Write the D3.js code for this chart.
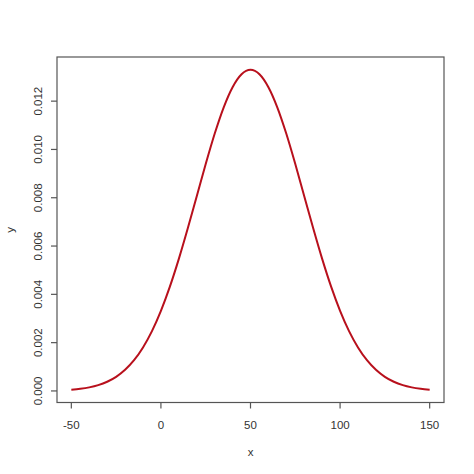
<!DOCTYPE html>
<html>
<head>
<meta charset="utf-8">
<script src="https://cdn.jsdelivr.net/npm/d3@7"></script>
<style>
  body { margin: 0; background: #fff; }
  svg { display: block; }
</style>
</head>
<body>
<svg></svg>
<script>
// x values and density values
const xs = [-50, -45, -40, -35, -30, -25, -20, -15, -10, -5, 0, 5, 10, 15, 20, 25, 30, 35, 40, 45,
  50, 55, 60, 65, 70, 75, 80, 85, 90, 95, 100, 105, 110, 115, 120, 125, 130, 135, 140, 145, 150];
const ys = [0.0000514, 0.0000884, 0.000148, 0.000240, 0.000380, 0.000584, 0.000874, 0.001272,
  0.001800, 0.002477, 0.003316, 0.004317, 0.005467, 0.006733, 0.008066, 0.009397, 0.010648,
  0.011736, 0.012579, 0.013115, 0.013298, 0.013115, 0.012579, 0.011736, 0.010648, 0.009397,
  0.008066, 0.006733, 0.005467, 0.004317, 0.003316, 0.002477, 0.001800, 0.001272, 0.000874,
  0.000584, 0.000380, 0.000240, 0.000148, 0.0000884, 0.0000514];
const xTicks = [-50, 0, 50, 100, 150];
const yTicks = [0, 0.002, 0.004, 0.006, 0.008, 0.010, 0.012];

const data = xs.map((x, i) => ({ x: x, y: ys[i] }));

const width = 474;
const height = 474;
const margin = { top: 57, right: 30, bottom: 71.5, left: 57 };

// R-style 4% padding around the data range
function pad(ext) {
  const p = (ext[1] - ext[0]) * 0.04;
  return [ext[0] - p, ext[1] + p];
}

const xScale = d3.scaleLinear()
  .domain(pad(d3.extent(xs)))
  .range([margin.left, width - margin.right]);

const yScale = d3.scaleLinear()
  .domain(pad(d3.extent(ys)))
  .range([height - margin.bottom, margin.top]);

const svg = d3.select('svg')
  .attr('width', width)
  .attr('height', height)
  .style('font-family', 'Arial, "Liberation Sans", sans-serif');

const axisColor = '#555';
const textColor = '#333';
const fontSize = '11.5px';
const tickLen = 6;
const x0 = margin.left;
const x1 = width - margin.right;
const y0 = height - margin.bottom;
const y1 = margin.top;

// curve
const line = d3.line()
  .x((d) => xScale(d.x))
  .y((d) => yScale(d.y))
  .curve(d3.curveMonotoneX);

svg.append('path')
  .datum(data)
  .attr('fill', 'none')
  .attr('stroke', '#b8101c')
  .attr('stroke-width', 2)
  .attr('stroke-linejoin', 'round')
  .attr('d', line);

// box
svg.append('rect')
  .attr('x', x0)
  .attr('y', y1)
  .attr('width', x1 - x0)
  .attr('height', y0 - y1)
  .attr('fill', 'none')
  .attr('stroke', axisColor)
  .attr('stroke-width', 1.2);

// x axis ticks
svg.selectAll('.xtick')
  .data(xTicks)
  .enter()
  .append('line')
    .attr('x1', (d) => xScale(d))
    .attr('x2', (d) => xScale(d))
    .attr('y1', y0)
    .attr('y2', y0 + tickLen)
    .attr('stroke', axisColor)
    .attr('stroke-width', 1.2);

svg.selectAll('.xlab')
  .data(xTicks)
  .enter()
  .append('text')
    .attr('x', (d) => xScale(d))
    .attr('y', 428.5)
    .attr('text-anchor', 'middle')
    .attr('fill', textColor)
    .style('font-size', fontSize)
    .text((d) => d);

// y axis ticks
svg.selectAll('.ytick')
  .data(yTicks)
  .enter()
  .append('line')
    .attr('x1', x0)
    .attr('x2', x0 - tickLen)
    .attr('y1', (d) => yScale(d))
    .attr('y2', (d) => yScale(d))
    .attr('stroke', axisColor)
    .attr('stroke-width', 1.2);

svg.selectAll('.ylab')
  .data(yTicks)
  .enter()
  .append('text')
    .attr('transform', (d) => `translate(41.5,${yScale(d)}) rotate(-90)`)
    .attr('text-anchor', 'middle')
    .attr('fill', textColor)
    .style('font-size', fontSize)
    .text((d) => d3.format('.3f')(d));

// axis titles
svg.append('text')
  .attr('x', (x0 + x1) / 2)
  .attr('y', 456)
  .attr('text-anchor', 'middle')
  .attr('fill', textColor)
  .style('font-size', fontSize)
  .text('x');

svg.append('text')
  .attr('transform', `translate(14,${(y0 + y1) / 2}) rotate(-90)`)
  .attr('text-anchor', 'middle')
  .attr('fill', textColor)
  .style('font-size', fontSize)
  .text('y');
</script>
</body>
</html>
